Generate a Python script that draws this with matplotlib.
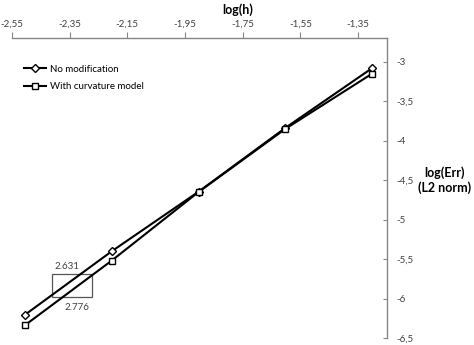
import numpy as np
import matplotlib.pyplot as plt
from matplotlib.patches import Rectangle

plt.rcParams['font.family'] = ['Lato', 'DejaVu Sans']

# data: log10 of mesh size and log10 of L2 error
log_h = [-2.505, -2.204, -1.903, -1.602, -1.301]
err_nomod = [-6.206, -5.401, -4.646, -3.838, -3.080]
err_curv = [-6.338, -5.519, -4.650, -3.850, -3.150]

xticks = [-2.55, -2.35, -2.15, -1.95, -1.75, -1.55, -1.35]
yticks = [-3, -3.5, -4, -4.5, -5, -5.5, -6, -6.5]

slope_nomod = "2.631"
slope_curv = "2.776"

fig = plt.figure(figsize=(4.74, 3.45), dpi=100)
ax = fig.add_axes([0.0253, 0.0203, 0.7912, 0.8696])

ax.plot(log_h, err_nomod, color='black', lw=1.5, marker='D', ms=4.5,
        mfc='white', mec='black', mew=1.0, label='No modification')
ax.plot(log_h, err_curv, color='black', lw=1.5, marker='s', ms=4.5,
        mfc='white', mec='black', mew=1.0, label='With curvature model')

# slope triangle box
ax.add_patch(Rectangle((-2.411, -5.987), 0.139, 0.303, fill=False,
                       ec='#555555', lw=0.9))
ax.text(-2.359, -5.59, slope_nomod, fontsize=7, color='#404040',
        ha='center', va='center')
ax.text(-2.324, -6.11, slope_curv, fontsize=7, color='#404040',
        ha='center', va='center')

ax.set_xlim(-2.55, -1.25)
ax.set_ylim(-6.5, -2.7)

for s in ['left', 'bottom']:
    ax.spines[s].set_visible(False)
for s in ['top', 'right']:
    ax.spines[s].set_color('#868686')
    ax.spines[s].set_linewidth(1.0)

ax.xaxis.tick_top()
ax.yaxis.tick_right()
ax.set_xticks(xticks)
ax.set_xticklabels([f"{v:.2f}".replace('.', ',') for v in xticks])
ax.set_yticks(yticks)
ax.set_yticklabels([f"{v:g}".replace('.', ',') for v in yticks])
ax.tick_params(axis='x', direction='out', length=4, width=0.8,
               color='#868686', labelsize=7, pad=3, labelcolor='#404040')
ax.tick_params(axis='y', direction='in', length=3, width=0.8,
               color='#868686', labelsize=7, pad=7, labelcolor='#404040')

fig.text(0.502, 0.972, 'log(h)', fontsize=9, fontweight='bold',
         ha='center', va='center')
fig.text(0.937, 0.478, 'log(Err)\n(L2 norm)', fontsize=9, fontweight='bold',
         ha='center', va='center', linespacing=1.3)

ax.legend(loc='upper left', bbox_to_anchor=(0.01, 0.94), frameon=False,
          fontsize=7, handlelength=2.2, handletextpad=0.4, labelspacing=0.9)

fig.savefig('out.png', dpi=100)
